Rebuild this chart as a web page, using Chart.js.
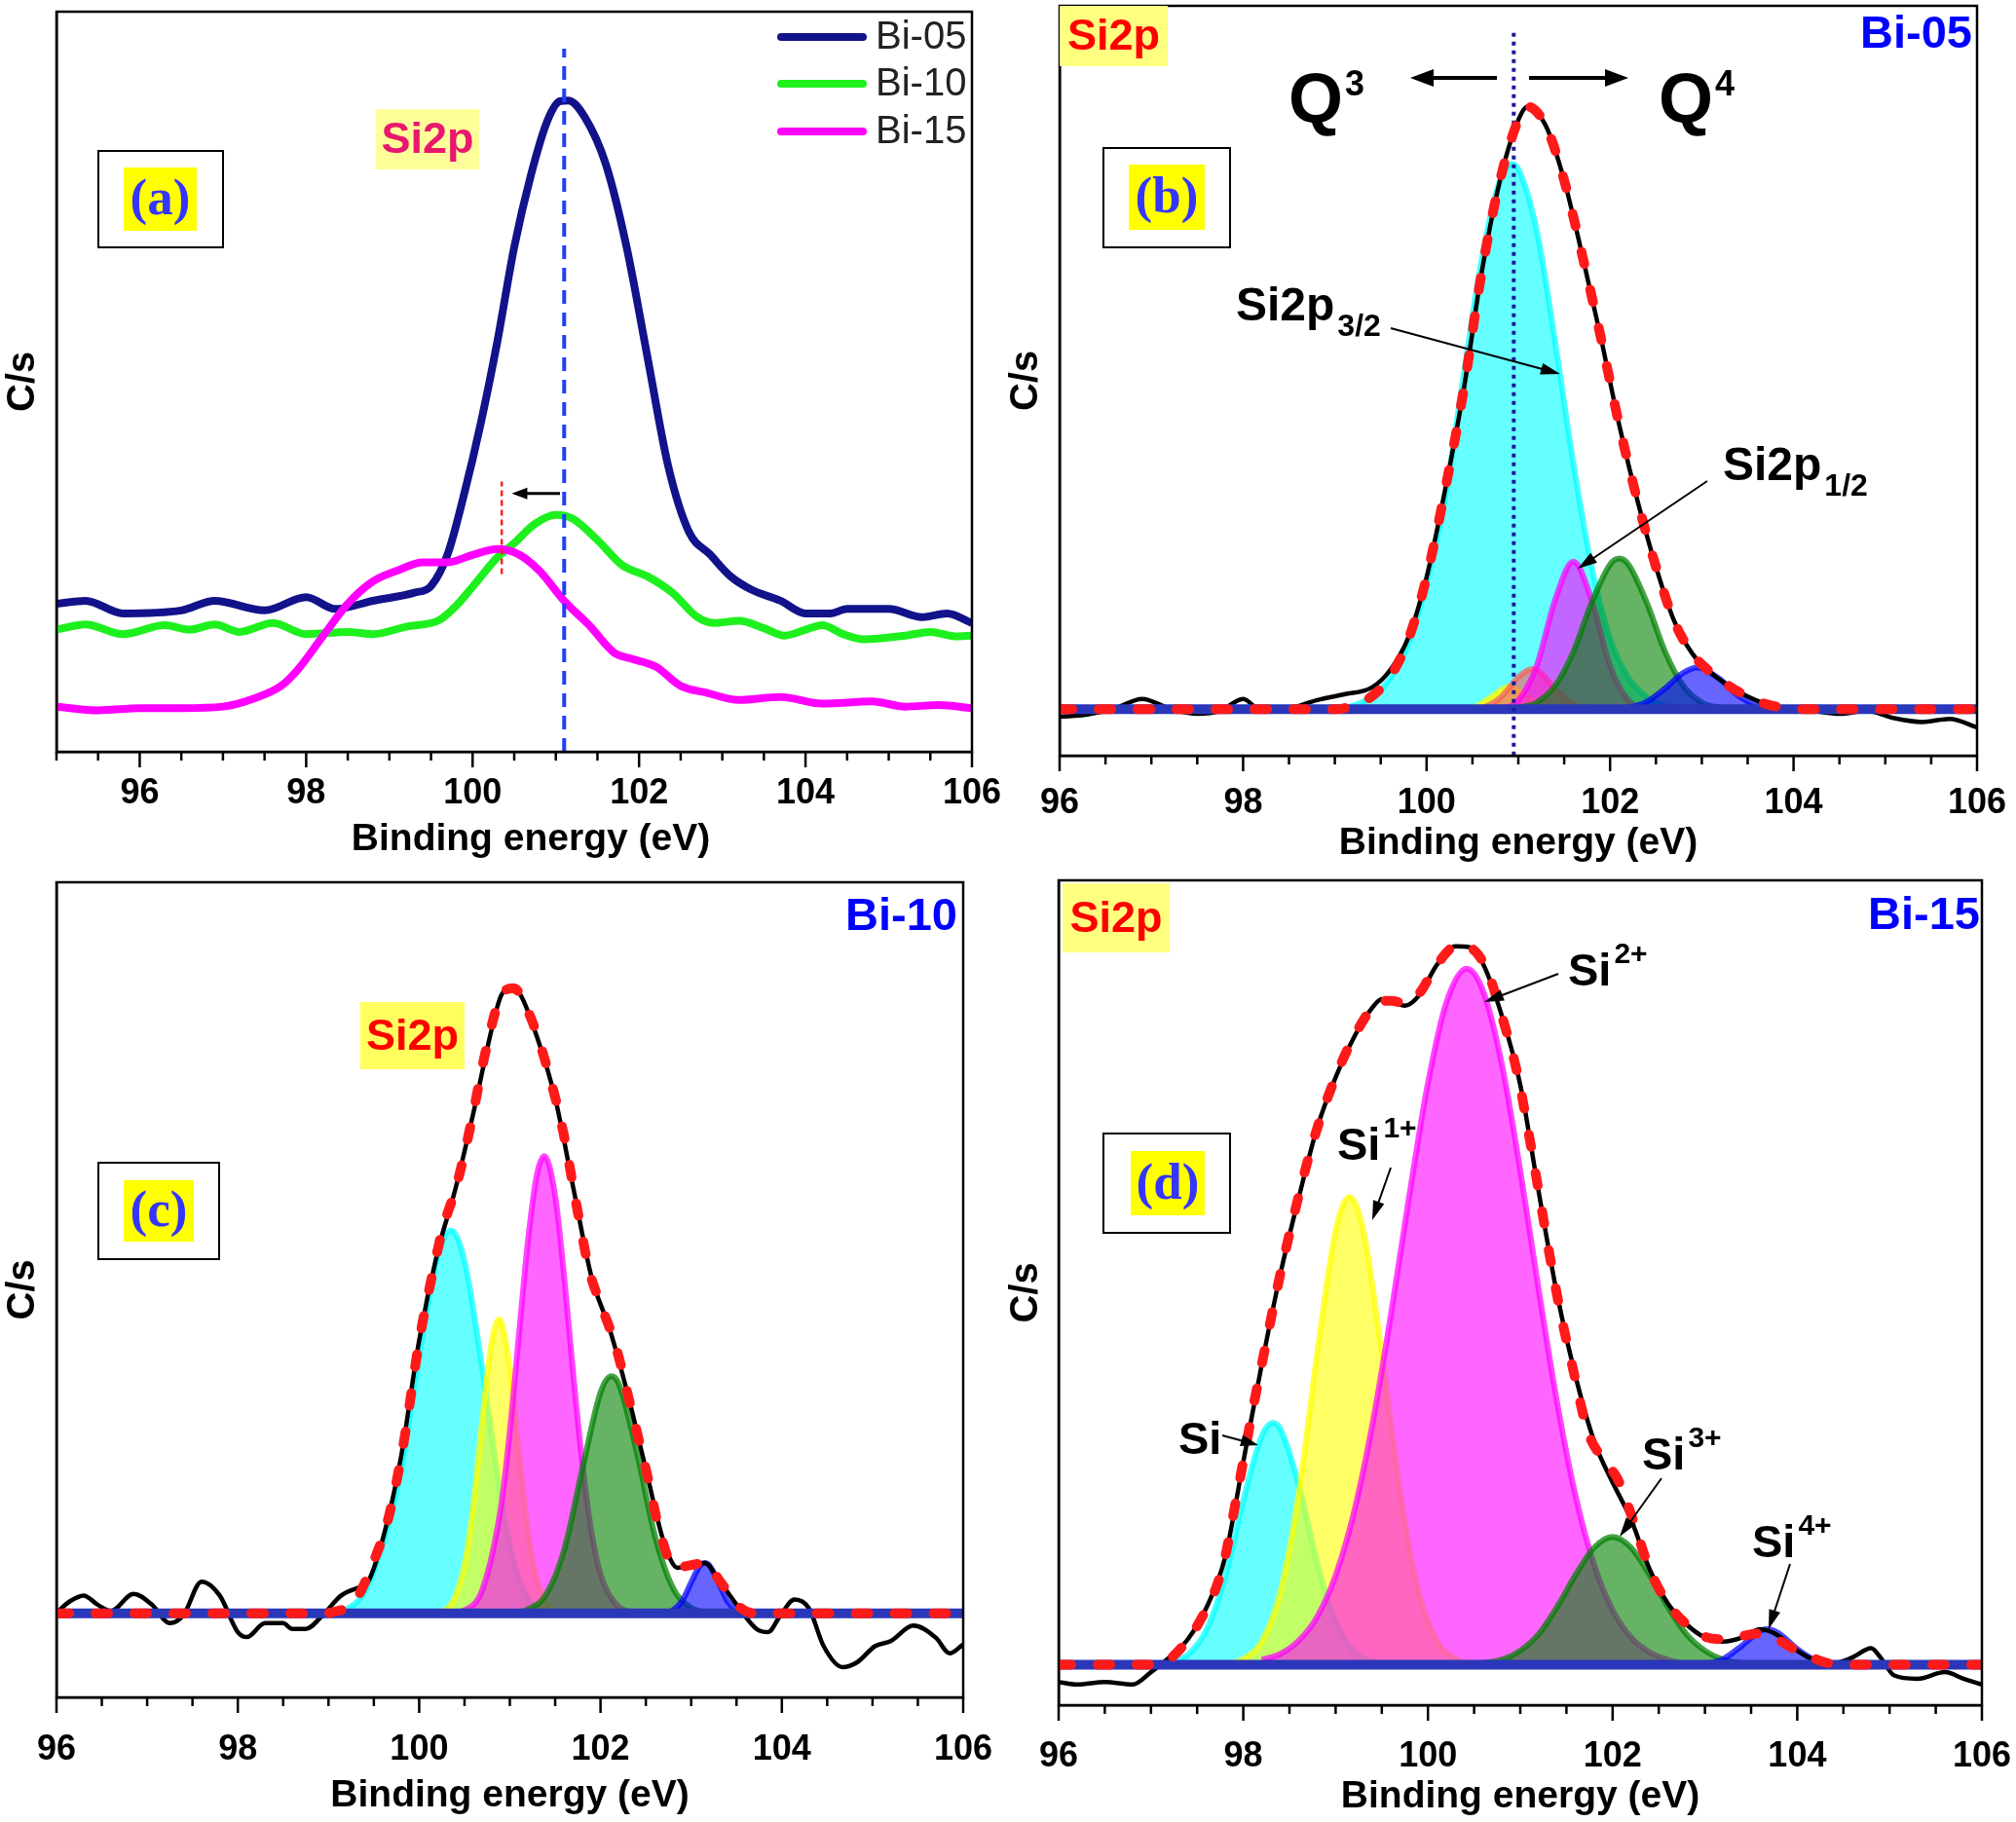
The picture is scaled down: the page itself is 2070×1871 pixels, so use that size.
<!DOCTYPE html>
<html><head><meta charset="utf-8">
<script src="https://cdn.jsdelivr.net/npm/chart.js@4.4.1/dist/chart.umd.min.js"></script>
<style>
html,body{margin:0;padding:0;background:#fff;}
body{width:2070px;height:1871px;position:relative;overflow:hidden;}
canvas{position:absolute;}
</style></head><body>
<canvas id="ca" width="1040" height="885" style="left:0px;top:0px;width:1040px;height:885px"></canvas>
<canvas id="cb" width="1040" height="890" style="left:1030px;top:0px;width:1040px;height:890px"></canvas>
<canvas id="cc" width="1040" height="988" style="left:0px;top:880px;width:1040px;height:988px"></canvas>
<canvas id="cd" width="1040" height="989" style="left:1030px;top:880px;width:1040px;height:989px"></canvas>
<script>
// ---------------- DATA ----------------
const xTickLabels = [96, 98, 100, 102, 104, 106];

// Panel (a): the three samples
const a_legend = ['Bi-05', 'Bi-10', 'Bi-15'];
const a05_E = [95,95.35,95.8,96.5,96.9,97.5,98.0,98.35,98.8,99.3,99.5,99.7,99.9,100.1,100.3,100.5,100.7,100.9,101.05,101.15,101.35,101.6,101.85,102.1,102.35,102.6,102.85,103.1,103.35,103.7,104.0,104.3,104.5,105.0,105.4,105.7,106];
const a05_I = [20.0,20.4,18.7,19.1,20.4,19.1,20.9,19.3,20.4,21.5,22.4,26.7,34.9,44.5,55.6,68.2,77.9,85.3,87.9,88.0,85.7,79.4,68.2,53.4,38.6,29.7,26.7,23.7,21.9,20.4,18.7,18.7,19.3,19.3,18.2,18.7,17.4];
const a10_E = [95,95.35,95.8,96.3,96.6,96.9,97.2,97.6,98.0,98.5,98.8,99.2,99.6,99.8,100.0,100.3,100.5,100.75,101.0,101.2,101.5,101.8,102.1,102.4,102.7,102.9,103.2,103.5,103.75,104.0,104.2,104.45,104.7,105.2,105.5,105.8,106];
const a10_I = [16.5,17.2,15.9,17.1,16.5,17.2,16.2,17.4,15.9,16.2,15.9,16.9,17.8,19.7,22.3,26.3,28.2,30.8,32.0,31.5,28.6,25.2,23.7,21.5,18.2,17.4,17.7,16.7,15.7,16.5,17.1,15.9,15.2,15.7,16.2,15.6,15.7];
const a15_E = [95,95.5,96.0,96.5,97.0,97.4,97.7,97.9,98.2,98.5,98.8,99.1,99.4,99.7,100.0,100.3,100.55,100.8,101.1,101.4,101.7,101.9,102.2,102.5,102.8,103.2,103.7,104.2,104.8,105.2,105.6,106];
const a15_I = [6.1,5.6,5.9,5.9,6.1,7.3,8.9,11.1,15.6,20.0,23.0,24.5,25.6,25.6,26.6,27.4,26.7,24.5,20.4,17.1,13.4,12.6,11.5,8.9,8.0,7.0,7.4,6.5,6.8,6.1,6.3,5.9];
const a_peakLineE = [101.1, 101.1];
const a_peakLineV = [0, 95];
const a_shiftLineE = [100.35, 100.35];
const a_shiftLineV = [24, 36.5];
const a_shiftArrow = [101.05, 100.47, 34.9]; // from, to, level

// Panel (b): Bi-05 deconvolution
const b_rawE = [96,96.3,96.6,96.9,97.2,97.5,97.75,98.0,98.2,98.5,98.8,99.1,99.4,99.6,99.8,100.0,100.2,100.4,100.6,100.8,101.0,101.1,101.3,101.5,101.7,101.9,102.1,102.3,102.5,102.7,102.9,103.1,103.3,103.5,103.7,103.9,104.2,104.5,104.8,105.1,105.4,105.7,106];
const b_raw  = [4.7,5.0,5.8,7.1,5.8,5.1,5.5,7.1,5.5,5.8,6.9,7.7,8.6,10.9,15.3,23.4,35.0,48.2,64.2,76.6,84.7,86.5,83.9,76.6,66.4,55.5,43.8,33.6,24.8,17.5,13.1,10.6,8.8,7.4,6.4,5.8,5.5,5.1,5.5,4.5,4.0,4.4,3.3];
const b_fitE = [96,99.0,99.2,99.4,99.6,99.8,100.0,100.2,100.4,100.6,100.8,101.0,101.1,101.3,101.5,101.7,101.9,102.1,102.3,102.5,102.7,102.9,103.1,103.3,103.5,103.7,103.9,104.1,106];
const b_fit  = [5.7,5.7,6.2,7.4,10.0,15.0,23.4,35.0,48.2,64.2,76.6,84.7,86.5,83.9,76.6,66.4,55.5,43.8,33.6,24.8,17.5,13.1,10.6,8.8,7.4,6.4,5.9,5.7,5.7];
const b_baseE = [96, 106];
const b_baseV = [5.7, 5.7];
const b_cyanE = [98.8,99.0,99.2,99.4,99.6,99.8,100.0,100.2,100.4,100.6,100.8,100.93,101.0,101.2,101.4,101.6,101.8,102.0,102.2,102.4,102.6,102.8];
const b_cyanV = [5.7,5.8,6.2,7.4,9.8,14.5,22.8,34.0,50.1,65.9,76.6,78.8,78.1,69.9,55.0,38.6,24.7,15.2,9.9,7.3,6.2,5.8];
const b_yellowE = [100.3,100.5,100.7,100.9,101.1,101.3,101.5];
const b_yellowV = [5.7,5.9,7.3,8.7,7.3,5.9,5.7];
const b_pinkE = [100.4,100.6,100.8,101.0,101.15,101.2,101.4,101.6,101.8,102.0];
const b_pinkV = [5.7,5.9,7.2,10.0,11.1,11.0,8.5,6.4,5.8,5.7];
const b_magE = [100.6,100.8,101.0,101.2,101.4,101.6,101.8,102.0,102.2,102.4,102.6];
const b_magV = [5.7,5.8,6.9,11.5,20.3,25.5,20.3,11.5,6.9,5.8,5.7];
const b_greenE = [101.0,101.2,101.4,101.6,101.8,102.0,102.1,102.2,102.4,102.6,102.8,103.0,103.2,103.4];
const b_greenV = [5.9,6.6,8.8,13.4,20.0,25.1,25.9,25.1,20.0,13.4,8.8,6.6,5.9,5.7];
const b_blueE = [102.0,102.2,102.4,102.6,102.8,102.95,103.0,103.2,103.4,103.6,103.8,104.0];
const b_blueV = [5.7,5.9,6.7,8.5,10.6,11.3,11.2,9.7,7.5,6.2,5.8,5.7];
const b_centerLineE = [100.95, 100.95];
const b_centerLineV = [-0.5, 97];

// Panel (c): Bi-10 deconvolution
const c_rawE = [96,96.15,96.3,96.45,96.6,96.85,97.05,97.25,97.4,97.6,97.8,98.0,98.1,98.3,98.5,98.6,98.75,98.93,99.14,99.34,99.42,99.6,99.8,100.0,100.2,100.4,100.6,100.8,100.9,101.0,101.1,101.3,101.5,101.7,101.9,102.1,102.3,102.5,102.7,102.85,103.0,103.15,103.3,103.5,103.72,103.85,103.97,104.14,104.3,104.46,104.67,104.83,105.03,105.2,105.45,105.7,105.85,106];
const c_raw  = [10.4,11.8,12.5,11.4,10.6,12.7,11.4,9.1,10.1,14.2,12.5,8.0,7.4,9.1,9.1,8.4,8.4,10.0,12.5,13.5,13.9,19.5,29.5,43.8,54.5,62.4,71.8,82.0,86.0,87.0,86.5,81.0,73.5,62.5,51.6,45.2,37.2,28.0,19.0,15.9,16.2,16.5,14.5,11.4,8.4,8.0,9.8,12.0,10.9,6.3,3.7,4.3,6.3,6.9,8.8,7.3,5.4,6.5];
const c_fitE = [96,98.9,99.1,99.28,99.48,99.67,99.83,100.0,100.14,100.26,100.41,100.57,100.73,100.9,101.04,101.23,101.43,101.59,101.74,101.88,102.0,102.17,102.33,102.5,102.66,102.82,102.99,103.15,103.32,103.52,103.7,106];
const c_fit  = [10.3,10.3,10.6,11.6,16.2,22.4,31.3,43.7,51.6,57.5,62.7,70.3,79.1,86.0,87.0,83.4,76.5,69.3,60.1,52.2,48.3,43.0,35.8,28.0,20.1,15.9,16.2,16.5,14.2,11.2,10.3,10.3];
const c_baseE = [96, 106];
const c_baseV = [10.3, 10.3];
const c_cyanE = [99.0,99.2,99.4,99.6,99.8,100.0,100.2,100.35,100.5,100.7,100.9,101.1,101.3,101.5,101.7];
const c_cyanV = [10.3,10.8,13.0,19.0,28.0,42.0,54.0,57.3,53.5,40.0,24.5,14.5,11.0,10.4,10.3];
const c_yellowE = [100.1,100.3,100.5,100.6,100.7,100.8,100.88,101.0,101.1,101.2,101.3,101.5,101.7];
const c_yellowV = [10.3,10.8,16.2,23.8,34.4,43.6,46.4,40.4,30.0,20.3,14.3,10.6,10.3];
const c_magE = [100.3,100.5,100.7,100.9,101.0,101.1,101.2,101.3,101.38,101.5,101.6,101.7,101.8,101.9,102.0,102.2,102.4];
const c_magV = [10.3,10.7,13.3,23.2,32.6,44.4,56.0,64.2,66.4,61.5,51.5,39.5,28.6,20.3,15.1,11.1,10.4];
const c_greenE = [101.0,101.2,101.4,101.6,101.8,102.0,102.12,102.2,102.4,102.6,102.8,103.0,103.2,103.4];
const c_greenV = [10.3,10.8,12.6,18.1,28.0,37.4,39.4,38.5,30.1,19.8,13.4,11.0,10.4,10.3];
const c_blueE = [102.7,102.8,102.9,103.0,103.1,103.15,103.2,103.3,103.4,103.5,103.6];
const c_blueV = [10.3,10.7,11.8,14.1,16.2,16.5,16.2,14.1,11.8,10.7,10.3];

// Panel (d): Bi-15 deconvolution
const d_rawE = [96.0,96.2,96.5,96.8,97.0,97.2,97.4,97.6,97.8,98.0,98.2,98.4,98.6,98.8,99.0,99.2,99.4,99.5,99.6,99.75,99.9,100.1,100.3,100.45,100.6,100.8,101.0,101.2,101.4,101.6,101.8,102.0,102.2,102.4,102.6,102.8,103.0,103.2,103.4,103.6,103.8,104.0,104.2,104.4,104.6,104.8,104.9,105.05,105.3,105.6,105.8,106.0];
const d_raw  = [2.8,2.5,2.8,2.5,4.0,5.8,8.0,11.8,17.8,29.5,41.3,52.2,61.5,70.0,76.1,81.0,84.6,85.6,85.4,84.8,86.0,89.8,92.0,91.9,89.8,83.6,75.2,62.2,49.7,39.8,32.0,27.0,22.5,16.5,12.3,9.8,8.2,7.7,8.2,9.2,8.4,6.6,5.4,5.1,5.8,6.9,5.8,3.6,3.2,4.0,3.2,2.5];
const d_fitE = [96,97.1,97.21,97.53,97.78,97.94,98.10,98.24,98.38,98.54,98.75,98.99,99.23,99.47,99.6,99.75,99.92,100.08,100.32,100.48,100.64,100.80,100.97,101.09,101.21,101.33,101.45,101.57,101.73,101.89,102.06,102.22,102.4,102.6,102.8,103.0,103.2,103.6,104.0,104.3,104.5,106];
const d_fit  = [4.9,4.9,5.6,10.2,16.9,26.0,35.7,43.5,51.2,59.0,68.1,75.9,81.7,85.2,85.4,85.1,86.5,89.5,92.1,91.7,89.1,83.6,76.5,69.4,61.6,53.8,46.8,40.8,33.2,29.9,27.3,22.5,16.5,12.3,9.8,8.3,8.0,8.7,6.6,5.2,4.9,4.9];
const d_baseE = [96, 106];
const d_baseV = [4.9, 4.9];
const d_cyanE = [97.0,97.2,97.4,97.6,97.8,98.0,98.2,98.32,98.4,98.6,98.8,99.0,99.2,99.4,99.6];
const d_cyanV = [4.9,5.2,6.1,9.1,15.4,24.8,32.6,34.2,33.5,26.7,17.2,10.1,6.5,5.3,4.9];
const d_yellowE = [97.6,97.8,98.0,98.2,98.4,98.6,98.8,99.0,99.15,99.3,99.5,99.7,99.9,100.1,100.3,100.5,100.7];
const d_yellowV = [4.9,5.0,5.6,7.7,13.6,25.6,42.6,57.5,61.6,57.5,42.6,25.6,13.6,7.7,5.6,5.0,4.9];
const d_magE = [98.2,98.4,98.6,98.8,99.0,99.2,99.4,99.6,99.8,100.0,100.2,100.42,100.6,100.8,101.0,101.2,101.4,101.6,101.8,102.0,102.2,102.4,102.6,102.8];
const d_magV = [5.5,6.2,7.8,10.7,15.7,23.4,34.1,47.4,61.9,75.4,85.2,89.3,86.5,77.7,64.8,50.3,36.6,25.3,17.0,11.5,8.2,6.4,5.5,4.9];
const d_greenE = [100.4,100.6,100.8,101.0,101.2,101.4,101.6,101.8,102.0,102.2,102.4,102.6,102.8,103.0,103.2,103.4,103.6];
const d_greenV = [4.9,5.1,5.5,6.6,8.6,11.9,15.8,19.1,20.4,19.1,15.8,11.9,8.6,6.6,5.5,5.1,4.9];
const d_blueE = [102.8,103.0,103.2,103.4,103.6,103.68,103.8,104.0,104.2,104.4,104.6];
const d_blueV = [4.9,5.0,5.6,7.2,9.0,9.2,8.7,6.8,5.4,4.9,4.9];

// ---------------- HELPERS ----------------
const FONT = '"Liberation Sans", Arial, Helvetica, sans-serif';
const SERIF = '"Liberation Serif", "Times New Roman", serif';
const XTITLE = 'Binding energy (eV)';
const TICKPAD = 4;

function pts(E, V) { return E.map((x, i) => ({x: x, y: V[i]})); }
function line(E, V, color, width, order, extra) {
  return Object.assign({data: pts(E, V), borderColor: color, borderWidth: width, pointRadius: 0,
    fill: false, order: order, cubicInterpolationMode: 'monotone'}, extra || {});
}
function straight(E, V, color, width, order, dash) {
  return {data: pts(E, V), borderColor: color, borderWidth: width, pointRadius: 0, fill: false,
    order: order, tension: 0, borderDash: dash, borderCapStyle: 'butt'};
}
function comp(E, V, rgb, base, order) {
  return {data: pts(E, V), borderColor: 'rgba(' + rgb + ',0.72)', backgroundColor: 'rgba(' + rgb + ',0.6)',
    borderWidth: 6, pointRadius: 0, fill: {value: base}, order: order, cubicInterpolationMode: 'monotone'};
}
function txt(ctx, s, x, y, size, color, opts) {
  opts = opts || {};
  ctx.save();
  ctx.font = (opts.weight || 'bold') + ' ' + size + 'px ' + (opts.family || FONT);
  ctx.fillStyle = color;
  ctx.textAlign = opts.align || 'left';
  ctx.textBaseline = opts.baseline || 'middle';
  ctx.fillText(s, x, y);
  const w = ctx.measureText(s).width;
  ctx.restore();
  return w;
}
function arrow(ctx, x1, y1, x2, y2, w, hl, hw) {
  const ang = Math.atan2(y2 - y1, x2 - x1), c = Math.cos(ang), s = Math.sin(ang);
  ctx.save(); ctx.strokeStyle = '#000'; ctx.fillStyle = '#000'; ctx.lineWidth = w;
  ctx.beginPath(); ctx.moveTo(x1, y1); ctx.lineTo(x2 - hl * 0.8 * c, y2 - hl * 0.8 * s); ctx.stroke();
  ctx.beginPath(); ctx.moveTo(x2, y2);
  ctx.lineTo(x2 - hl * c + hw * s, y2 - hl * s - hw * c);
  ctx.lineTo(x2 - hl * c - hw * s, y2 - hl * s + hw * c);
  ctx.closePath(); ctx.fill(); ctx.restore();
}
function panelTag(ctx, o, i, s) {
  ctx.save();
  ctx.fillStyle = '#fff'; ctx.fillRect(o[0], o[1], o[2], o[3]);
  ctx.strokeStyle = '#000'; ctx.lineWidth = 2; ctx.strokeRect(o[0], o[1], o[2], o[3]);
  ctx.fillStyle = '#ffff00'; ctx.fillRect(i[0], i[1], i[2], i[3]);
  ctx.restore();
  txt(ctx, s, i[0] + i[2] / 2, i[1] + i[3] / 2 + 2, 53, '#3535ff', {family: SERIF, align: 'center'});
}
function yellowLabel(ctx, r, bg, s, color) {
  ctx.save(); ctx.fillStyle = bg; ctx.fillRect(r[0], r[1], r[2], r[3]); ctx.restore();
  txt(ctx, s, r[0] + r[2] / 2, r[1] + r[3] / 2 + 2, 45, color, {align: 'center'});
}
function supLabel(ctx, main, sup, x, yc, size, supSize) {
  const w = txt(ctx, main, x, yc, size, '#000');
  txt(ctx, sup, x + w + 3, yc - size * 0.38, supSize, '#000');
}
function subLabel(ctx, main, sub, x, yc, size, subSize) {
  const w = txt(ctx, main, x, yc, size, '#000');
  txt(ctx, sub, x + w + 3, yc + size * 0.42, subSize, '#000');
}

const frameAndTicks = {
  id: 'frameAndTicks',
  afterDatasetsDraw(chart) {
    const ctx = chart.ctx, a = chart.chartArea, xs = chart.scales.x;
    ctx.save();
    ctx.strokeStyle = '#000'; ctx.lineWidth = 2.5;
    ctx.strokeRect(a.left, a.top, a.right - a.left, a.bottom - a.top);
    xs.ticks.forEach(t => {
      const px = xs.getPixelForValue(t.value);
      const major = xTickLabels.some(v => Math.abs(v - t.value) < 1e-6);
      ctx.beginPath(); ctx.moveTo(px, a.bottom); ctx.lineTo(px, a.bottom + (major ? 16 : 9)); ctx.stroke();
    });
    ctx.restore();
  }
};

function makeOptions(cfg) {
  return {
    responsive: false, animation: false, devicePixelRatio: 1,
    layout: {autoPadding: false, padding: {left: 0, top: cfg.top, right: cfg.right, bottom: 0}},
    plugins: {legend: {display: false}, tooltip: {enabled: false}, title: {display: false}},
    elements: {point: {radius: 0}},
    scales: {
      x: {type: 'linear', position: 'bottom', min: cfg.xmin, max: 106,
        afterFit: (s) => { s.height = cfg.xh; },
        ticks: {stepSize: 0.5, autoSkip: false, maxRotation: 0, minRotation: 0, padding: TICKPAD, color: '#000',
          font: {family: FONT, size: 36, weight: 'bold', lineHeight: (cfg.labelOffset - TICKPAD) * 2 / 36},
          callback: (v) => xTickLabels.some(t => Math.abs(t - v) < 1e-6) ? String(Math.round(v)) : ''},
        grid: {display: false},
        border: {display: true, color: '#000', width: 2.5},
        title: {display: cfg.showTitle !== false, text: XTITLE, color: '#000',
          font: {family: FONT, size: 39, weight: 'bold'}, padding: {top: 0, bottom: 0}}},
      y: {type: 'linear', min: cfg.ymin || 0, max: 100,
        afterFit: (s) => { s.width = cfg.yw; },
        ticks: {display: false}, grid: {display: false},
        border: {display: true, color: '#000', width: 2.5},
        title: {display: true, text: 'C/s', color: '#000',
          font: {family: FONT, size: 40, weight: 'bold'}, padding: {top: 0, bottom: 0}}}
    }
  };
}

const CYAN = '0,255,255', YEL = '255,255,0', PINK = '255,90,90', MAG = '255,0,255', GRN = '0,128,0', BLU = '0,0,255';
const RED = '#ff1a1a', BASE = '#2a37b8';
const FIT = {borderDash: [13, 27], borderCapStyle: 'round'};

// ---------------- PANEL A ----------------
const colA = ['#12128a', '#1ef01e', '#ff00ff'];
new Chart(document.getElementById('ca'), {
  type: 'line',
  data: {datasets: [
    straight(a_peakLineE, a_peakLineV, '#1f3fff', 4, 0, [14, 9]),
    straight(a_shiftLineE, a_shiftLineV, '#ff2020', 2.5, 1, [6, 4]),
    line(a15_E, a15_I, colA[2], 8, 2),
    line(a10_E, a10_I, colA[1], 8, 3),
    line(a05_E, a05_I, colA[0], 8, 4)
  ]},
  options: makeOptions({top: 12, right: 42, xh: 113, yw: 58, xmin: 95, labelOffset: 35, showTitle: false}),
  plugins: [frameAndTicks, {
    id: 'annA',
    afterDraw(chart) {
      const ctx = chart.ctx, xs = chart.scales.x, ys = chart.scales.y;
      txt(ctx, XTITLE, 545, 862, 39, '#000', {align: 'center'});
      yellowLabel(ctx, [386, 112, 106, 62], '#ffff99', 'Si2p', '#e8186e');
      panelTag(ctx, [101, 155, 128, 99], [127, 172, 75, 65], '(a)');
      const ly = [38, 86, 135];
      a_legend.forEach((name, i) => {
        ctx.save(); ctx.strokeStyle = colA[i]; ctx.lineWidth = 8; ctx.lineCap = 'round';
        ctx.beginPath(); ctx.moveTo(802, ly[i]); ctx.lineTo(886, ly[i]); ctx.stroke(); ctx.restore();
        txt(ctx, name, 899, ly[i] + 1, 40, '#222', {weight: 'normal'});
      });
      arrow(ctx, xs.getPixelForValue(a_shiftArrow[0]), ys.getPixelForValue(a_shiftArrow[2]),
        xs.getPixelForValue(a_shiftArrow[1]), ys.getPixelForValue(a_shiftArrow[2]), 3, 16, 6);
    }
  }]
});

// ---------------- PANEL B ----------------
new Chart(document.getElementById('cb'), {
  type: 'line',
  data: {datasets: [
    line(b_fitE, b_fit, RED, 10, 0, FIT),
    straight(b_centerLineE, b_centerLineV, '#1c1c9a', 4, 1, [4, 5]),
    straight(b_baseE, b_baseV, BASE, 10, 2, []),
    line(b_rawE, b_raw, '#000', 4.5, 3),
    comp(b_blueE, b_blueV, BLU, 5.7, 4),
    comp(b_greenE, b_greenV, GRN, 5.7, 5),
    comp(b_magE, b_magV, MAG, 5.7, 6),
    comp(b_pinkE, b_pinkV, PINK, 5.7, 7),
    comp(b_yellowE, b_yellowV, YEL, 5.7, 8),
    comp(b_cyanE, b_cyanV, CYAN, 5.7, 9)
  ]},
  options: makeOptions({top: 6, right: 40, xh: 114, yw: 58, xmin: 96, ymin: -0.52, labelOffset: 41}),
  plugins: [frameAndTicks, {
    id: 'annB',
    afterDraw(chart) {
      const ctx = chart.ctx;
      yellowLabel(ctx, [58, 6, 111, 62], '#ffff80', 'Si2p', '#ff0000');
      txt(ctx, 'Bi-05', 995, 36, 47, '#0000ff', {align: 'right'});
      // Q3 / Q4
      let w = txt(ctx, 'Q', 293, 126, 72, '#000', {baseline: 'alphabetic'});
      txt(ctx, '3', 293 + w + 2, 98, 36, '#000', {baseline: 'alphabetic'});
      w = txt(ctx, 'Q', 673, 126, 72, '#000', {baseline: 'alphabetic'});
      txt(ctx, '4', 673 + w + 2, 98, 36, '#000', {baseline: 'alphabetic'});
      arrow(ctx, 507, 80, 418, 80, 4, 24, 9);
      arrow(ctx, 540, 80, 642, 80, 4, 24, 9);
      panelTag(ctx, [103, 152, 130, 102], [129, 169, 78, 67], '(b)');
      subLabel(ctx, 'Si2p', '3/2', 239, 316, 48, 32);
      arrow(ctx, 398, 337, 572, 384, 2, 20, 6);
      subLabel(ctx, 'Si2p', '1/2', 739, 480, 48, 32);
      arrow(ctx, 723, 494, 590, 584, 2, 20, 6);
    }
  }]
});

// ---------------- PANEL C ----------------
new Chart(document.getElementById('cc'), {
  type: 'line',
  data: {datasets: [
    line(c_fitE, c_fit, RED, 10, 0, FIT),
    straight(c_baseE, c_baseV, BASE, 10, 1, []),
    line(c_rawE, c_raw, '#000', 4.5, 2),
    comp(c_blueE, c_blueV, BLU, 10.3, 3),
    comp(c_greenE, c_greenV, GRN, 10.3, 4),
    comp(c_magE, c_magV, MAG, 10.3, 5),
    comp(c_yellowE, c_yellowV, YEL, 10.3, 6),
    comp(c_cyanE, c_cyanV, CYAN, 10.3, 7)
  ]},
  options: makeOptions({top: 26, right: 51, xh: 125, yw: 58, xmin: 96, labelOffset: 46}),
  plugins: [frameAndTicks, {
    id: 'annC',
    afterDraw(chart) {
      const ctx = chart.ctx;
      txt(ctx, 'Bi-10', 983, 62, 47, '#0000ff', {align: 'right'});
      yellowLabel(ctx, [370, 149, 107, 69], '#ffff60', 'Si2p', '#ff0000');
      panelTag(ctx, [101, 314, 124, 99], [127, 332, 72, 63], '(c)');
    }
  }]
});

// ---------------- PANEL D ----------------
new Chart(document.getElementById('cd'), {
  type: 'line',
  data: {datasets: [
    line(d_fitE, d_fit, RED, 10, 0, FIT),
    straight(d_baseE, d_baseV, BASE, 10, 1, []),
    line(d_rawE, d_raw, '#000', 4.5, 2),
    comp(d_blueE, d_blueV, BLU, 4.9, 3),
    comp(d_greenE, d_greenV, GRN, 4.9, 4),
    comp(d_magE, d_magV, MAG, 4.9, 5),
    comp(d_yellowE, d_yellowV, YEL, 4.9, 6),
    comp(d_cyanE, d_cyanV, CYAN, 4.9, 7)
  ]},
  options: makeOptions({top: 24, right: 35, xh: 118, yw: 57, xmin: 96, labelOffset: 45}),
  plugins: [frameAndTicks, {
    id: 'annD',
    afterDraw(chart) {
      const ctx = chart.ctx;
      yellowLabel(ctx, [61, 27, 110, 71], '#ffff80', 'Si2p', '#ff0000');
      txt(ctx, 'Bi-15', 1003, 61, 47, '#0000ff', {align: 'right'});
      panelTag(ctx, [103, 284, 130, 102], [131, 302, 76, 66], '(d)');
      supLabel(ctx, 'Si', '2+', 580, 119, 47, 30);
      arrow(ctx, 570, 120, 494, 149, 2, 20, 6);
      supLabel(ctx, 'Si', '1+', 343, 298, 47, 30);
      arrow(ctx, 398, 319, 379, 373, 2, 20, 6);
      txt(ctx, 'Si', 180, 600, 47, '#000');
      arrow(ctx, 225, 594, 262, 604, 2, 18, 6);
      supLabel(ctx, 'Si', '3+', 656, 616, 47, 30);
      arrow(ctx, 676, 638, 633, 698, 2, 20, 6);
      supLabel(ctx, 'Si', '4+', 769, 706, 47, 30);
      arrow(ctx, 808, 726, 786, 793, 2, 20, 6);
    }
  }]
});
</script>
</body></html>
